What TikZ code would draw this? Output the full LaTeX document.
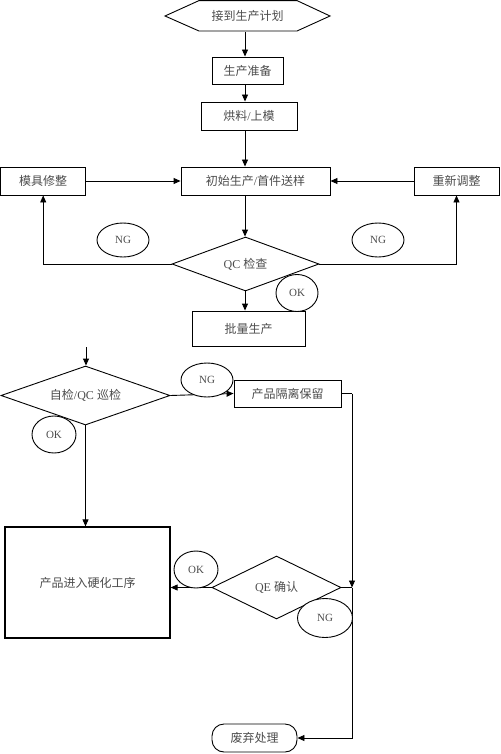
\documentclass[tikz,border=0pt]{standalone}
\usepackage{fontspec}
\setmainfont{Liberation Serif}
\newfontfamily\cjk{Noto Sans CJK SC}
\newcommand{\zh}[1]{{\cjk #1}}
\usetikzlibrary{shapes.geometric,arrows.meta}
\begin{document}
\begin{tikzpicture}[x=1pt,y=-1pt,line width=0.9pt,
  every node/.style={font=\fontsize{12}{14}\selectfont, text=black!70},
  box/.style={draw=black, rectangle, inner sep=0pt},
  dia/.style={draw=black, diamond, inner sep=0pt},
  tag/.style={draw=black, ellipse, fill=white, inner sep=0pt, font=\fontsize{11}{13}\selectfont},
  arr/.style={-{Triangle[length=7pt,width=6pt]}, draw=black},
  ln/.style={draw=black}]
\useasboundingbox (0,0) rectangle (500,754);
\coordinate (axis) at (245,0);
% hexagon
\draw[ln] (165,16) -- (199,0.6) -- (297,0.6) -- (330,16) -- (297,31) -- (199,31) -- cycle;
\node[inner sep=0, minimum width=165pt, minimum height=31pt] (plan) at (247.5,16) {\zh{接到生产计划}};
\node[box, minimum width=71pt, minimum height=27pt] (prep) at (247.5,70.5) {\zh{生产准备}};
\node[box, minimum width=96pt, minimum height=28pt] (bake) at (249,116) {\zh{烘料}/\zh{上模}};
\node[box, minimum width=149pt, minimum height=28pt] (init) at (255.5,181) {\zh{初始生产}/\zh{首件送样}};
\node[box, minimum width=85pt, minimum height=28pt] (mold) at (43.2,181) {\zh{模具修整}};
\node[box, minimum width=85pt, minimum height=28pt] (readj) at (456.5,181) {\zh{重新调整}};
\node[dia, aspect=2.7, minimum width=147pt, minimum height=54pt] (qc) at (245.5,264) {QC \zh{检查}};
\node[box, minimum width=113pt, minimum height=35pt] (mass) at (248.5,328.5) {\zh{批量生产}};
% arrows upper
\draw[arr] (plan.south -| axis) -- (prep.north -| axis);
\draw[arr] (prep.south -| axis) -- (bake.north -| axis);
\draw[arr] (bake.south -| axis) -- (init.north -| axis);
\draw[arr] (init.south -| axis) -- (qc.north -| axis);
\draw[arr] (mold.east) -- (init.west);
\draw[arr] (readj.west) -- (init.east);
\draw[arr] (qc.west) -| (mold.south);
\draw[arr] (qc.east) -| (readj.south);
\draw[arr] (qc.south -| axis) -- (mass.north -| axis);
\node[tag, minimum width=52pt, minimum height=34pt] (ng1) at (123,240) {NG};
\node[tag, minimum width=52pt, minimum height=34pt] (ng2) at (378,240) {NG};
\node[tag, minimum width=42pt, minimum height=37pt] (ok1) at (297,293) {OK};
% lower part
\coordinate (in2) at (86,347);
\node[dia, aspect=2.9, minimum width=169pt, minimum height=59pt] (self) at (85.5,395.5) {\zh{自检}/QC \zh{巡检}};
\node[box, minimum width=107pt, minimum height=27pt] (iso) at (287.5,393.5) {\zh{产品隔离保留}};
\node[box, line width=1.3pt, minimum width=165pt, minimum height=111pt] (big) at (87.5,582.5) {\zh{产品进入硬化工序}};
\node[dia, aspect=2.05, minimum width=129pt, minimum height=63pt] (qe) at (276.5,587.5) {QE \zh{确认}};
\node[box, rounded corners=12pt, minimum width=85pt, minimum height=28pt] (waste) at (254.5,738) {\zh{废弃处理}};
\coordinate (rc) at (352,393.5);
\draw[arr] (in2) -- (in2 |- self.north);
\draw[arr] (self.east) -- (iso.west);
\draw[arr] (self.south) -- (self.south |- big.north);
\draw[ln] (iso.east) -- (iso.east -| rc);
\draw[arr] (iso.east -| rc) -- (rc |- qe.east);
\draw[ln] (qe.east) -- (qe.east -| rc);
\draw[arr] (qe.east -| rc) -- (rc |- waste.east) -- (waste.east);
\draw[arr] (qe.west) -- (qe.west -| big.east);
\node[tag, minimum width=52pt, minimum height=34pt] (ng3) at (207,380) {NG};
\node[tag, minimum width=44pt, minimum height=37pt] (ok2) at (54,434.5) {OK};
\node[tag, minimum width=44pt, minimum height=37pt] (ok3) at (196,569.5) {OK};
\node[tag, minimum width=55pt, minimum height=39pt] (ng4) at (325,618) {NG};
\end{tikzpicture}
\end{document}
